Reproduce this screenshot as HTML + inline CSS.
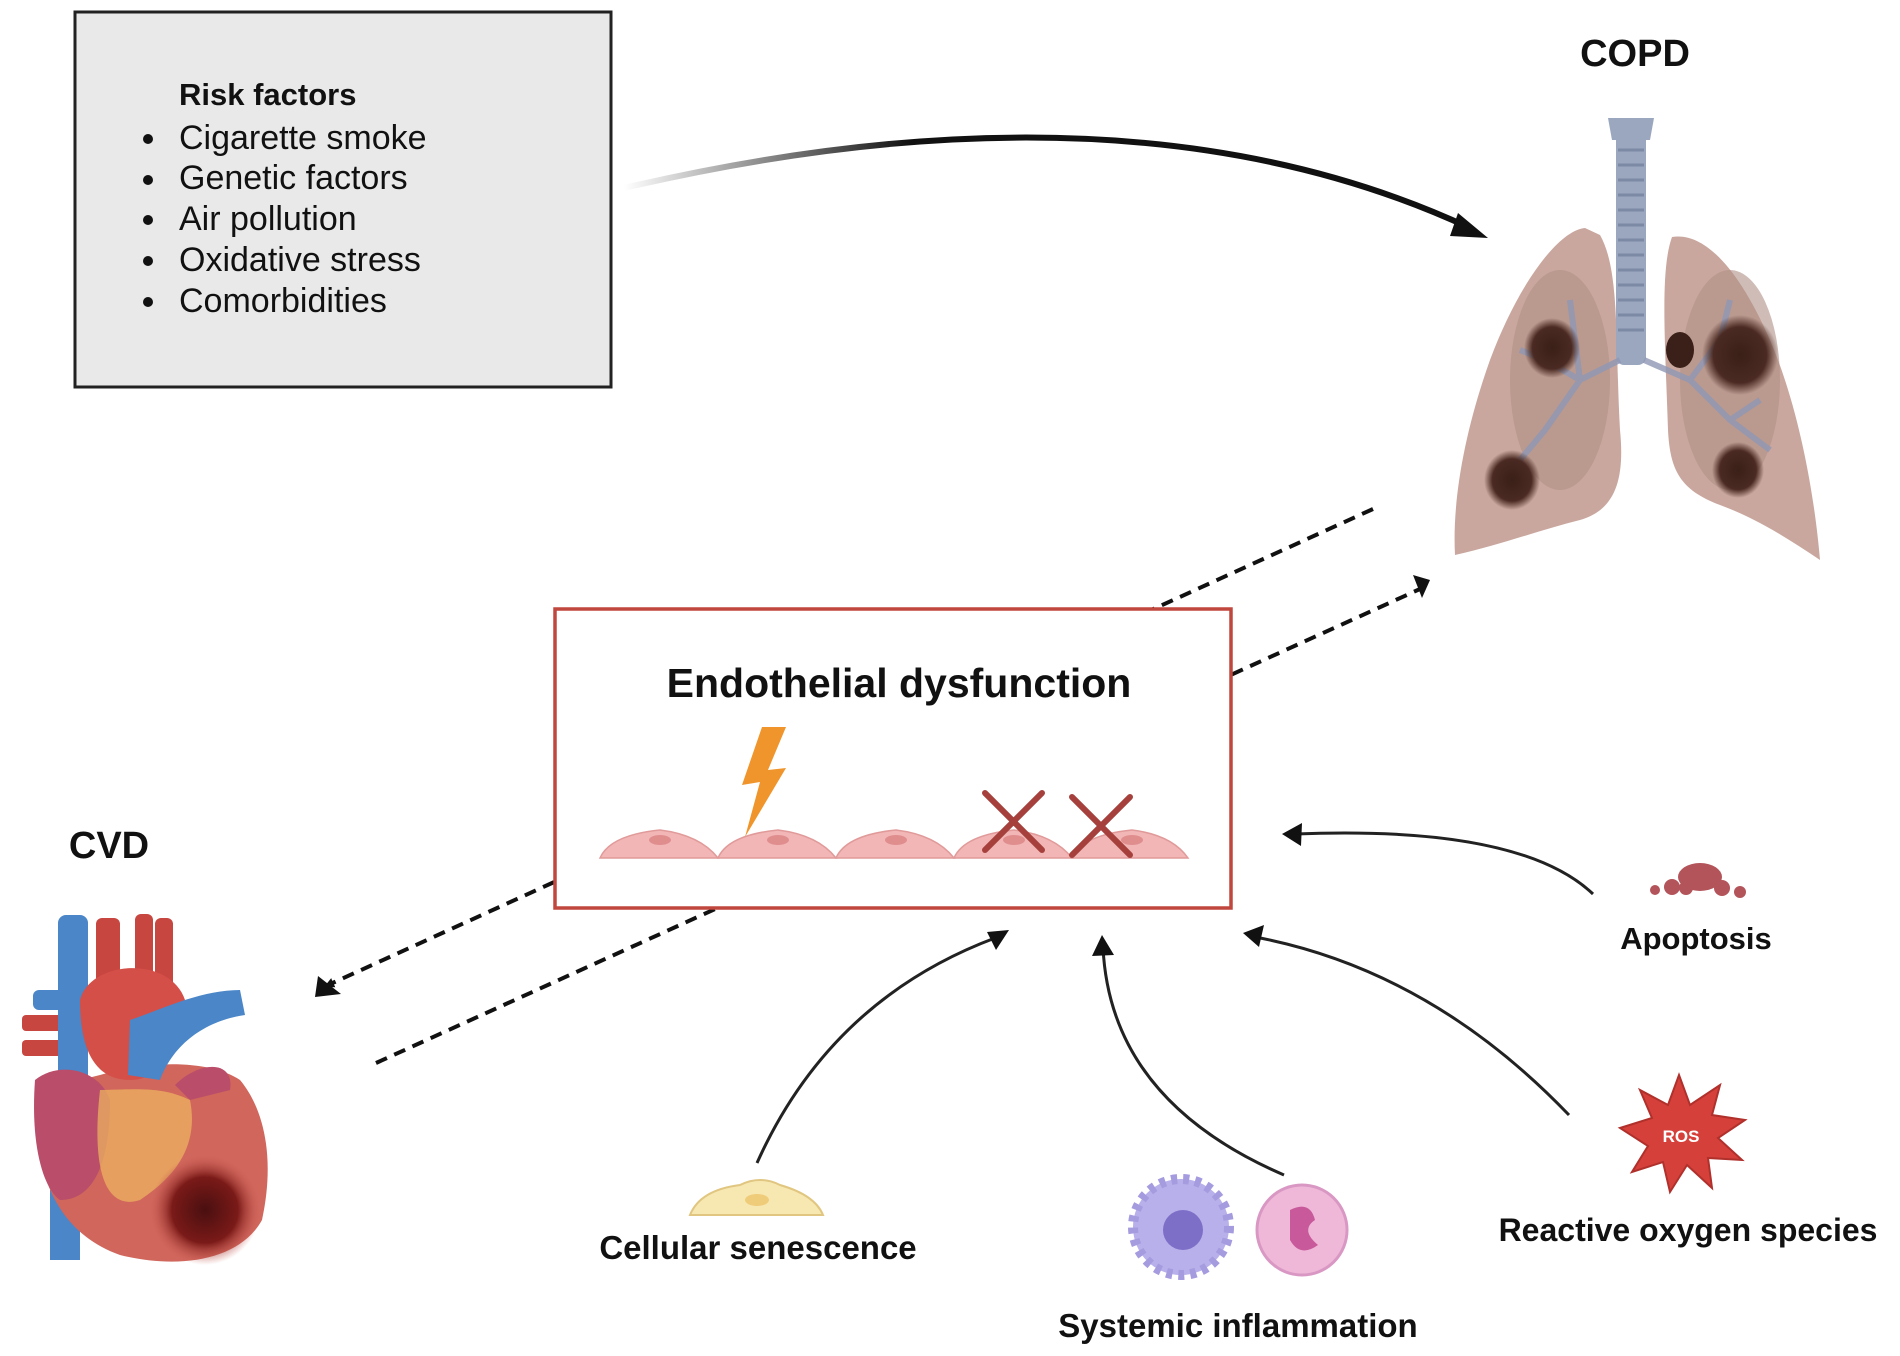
<!DOCTYPE html>
<html><head><meta charset="utf-8"><style>
html,body{margin:0;padding:0;background:#fff;}
svg{display:block;}
text{font-family:"Liberation Sans",sans-serif;}
</style></head><body>
<svg width="1900" height="1356" viewBox="0 0 1900 1356" xmlns="http://www.w3.org/2000/svg">
<defs>
<linearGradient id="ag" x1="624" y1="0" x2="1100" y2="0" gradientUnits="userSpaceOnUse">
<stop offset="0" stop-color="#fff"/><stop offset="0.6" stop-color="#111"/><stop offset="1" stop-color="#111"/></linearGradient>
<marker id="ah" markerWidth="10" markerHeight="10" refX="8" refY="5" orient="auto" markerUnits="userSpaceOnUse" viewBox="0 0 10 10"><path d="M0,0 L10,5 L0,10z" fill="#111"/></marker>
<radialGradient id="dk"><stop offset="0" stop-color="#3a2018"/><stop offset="0.7" stop-color="#4a2a22"/><stop offset="1" stop-color="#4a2a22" stop-opacity="0"/></radialGradient>
<radialGradient id="inf"><stop offset="0" stop-color="#4a0f10"/><stop offset="0.6" stop-color="#7a1a18"/><stop offset="1" stop-color="#c85a50" stop-opacity="0"/></radialGradient>
</defs>

<!-- Risk box -->
<rect x="75" y="12" width="536" height="375" fill="#e9e9e9" stroke="#222" stroke-width="3"/>
<text x="179" y="105" font-size="31" font-weight="bold" fill="#111">Risk factors</text>
<g font-size="34" fill="#111">
<text x="179" y="149">Cigarette smoke</text>
<text x="179" y="189">Genetic factors</text>
<text x="179" y="230">Air pollution</text>
<text x="179" y="271">Oxidative stress</text>
<text x="179" y="312">Comorbidities</text>
</g>
<g fill="#111"><circle cx="148" cy="139" r="5"/><circle cx="148" cy="180" r="5"/><circle cx="148" cy="220" r="5"/><circle cx="148" cy="261" r="5"/><circle cx="148" cy="302" r="5"/></g>

<!-- curved arrow -->
<path d="M624,188 Q1130,70 1470,228" fill="none" stroke="url(#ag)" stroke-width="6"/>
<path d="M1458,213 L1488,238 L1450,236 z" fill="#111"/>

<!-- COPD -->
<text x="1635" y="66" font-size="38" font-weight="bold" text-anchor="middle" fill="#111">COPD</text>
<!-- lungs -->
<path d="M1585,228 C1560,230 1520,280 1490,360 C1465,430 1452,500 1455,555 C1500,545 1540,530 1580,520 C1615,510 1625,480 1620,430 C1615,340 1620,270 1600,235 Z" fill="#c9a79e"/>
<path d="M1672,237 C1700,232 1735,260 1770,340 C1800,410 1815,500 1820,560 C1790,540 1760,520 1720,505 C1680,490 1670,470 1668,430 C1665,340 1660,270 1672,237 Z" fill="#c9a79e"/>
<ellipse cx="1560" cy="380" rx="50" ry="110" fill="#b08f86" opacity="0.6"/>
<ellipse cx="1730" cy="380" rx="50" ry="110" fill="#b08f86" opacity="0.6"/>
<rect x="1616" y="120" width="30" height="245" rx="8" fill="#9aa7bf"/>
<path d="M1608,118 L1654,118 L1650,140 L1612,140 Z" fill="#9aa7bf"/>
<g stroke="#7d8aa6" stroke-width="3">
<line x1="1618" y1="150" x2="1644" y2="150"/><line x1="1618" y1="165" x2="1644" y2="165"/><line x1="1618" y1="180" x2="1644" y2="180"/><line x1="1618" y1="195" x2="1644" y2="195"/><line x1="1618" y1="210" x2="1644" y2="210"/><line x1="1618" y1="225" x2="1644" y2="225"/><line x1="1618" y1="240" x2="1644" y2="240"/><line x1="1618" y1="255" x2="1644" y2="255"/><line x1="1618" y1="270" x2="1644" y2="270"/><line x1="1618" y1="285" x2="1644" y2="285"/><line x1="1618" y1="300" x2="1644" y2="300"/><line x1="1618" y1="315" x2="1644" y2="315"/><line x1="1618" y1="330" x2="1644" y2="330"/>
</g>
<g stroke="#8f97b5" stroke-width="6" fill="none" opacity="0.8">
<path d="M1620,360 L1580,380 L1545,430 L1520,460"/><path d="M1580,380 L1545,360 L1520,350"/><path d="M1580,380 L1570,300"/>
<path d="M1644,360 L1690,380 L1730,420 L1770,450"/><path d="M1690,380 L1720,340 L1730,300"/><path d="M1730,420 L1760,400"/>
</g>
<ellipse cx="1552" cy="348" rx="28" ry="30" fill="url(#dk)"/>
<ellipse cx="1740" cy="355" rx="38" ry="40" fill="url(#dk)"/>
<ellipse cx="1680" cy="350" rx="14" ry="18" fill="#3a2018"/>
<ellipse cx="1512" cy="480" rx="28" ry="30" fill="url(#dk)"/>
<ellipse cx="1738" cy="470" rx="26" ry="28" fill="url(#dk)"/>

<!-- dashed lines -->
<line x1="1373" y1="509" x2="326" y2="986" stroke="#111" stroke-width="4" stroke-dasharray="12,8" marker-end="url(#ah)"/>
<path d="M318,976 L341,994 L315,997 z" fill="#111"/>
<line x1="376" y1="1063" x2="1420" y2="589" stroke="#111" stroke-width="4" stroke-dasharray="12,8"/>
<path d="M1430,580 L1413,575 L1422,598 z" fill="#111"/>

<!-- Endothelial box -->
<rect x="555" y="609" width="676" height="299" fill="#fff" stroke="#c0473d" stroke-width="3.5"/>
<text x="899" y="697" font-size="41" font-weight="bold" text-anchor="middle" fill="#111">Endothelial dysfunction</text>
<g fill="#f1b6b5" stroke="#e19a9a" stroke-width="1.5">
<path d="M600,858 Q610,835 660,830 Q700,835 718,858 Z"/>
<path d="M718,858 Q728,835 778,830 Q818,835 836,858 Z"/>
<path d="M836,858 Q846,835 896,830 Q936,835 954,858 Z"/>
<path d="M954,858 Q964,835 1014,830 Q1054,835 1072,858 Z"/>
<path d="M1072,858 Q1082,835 1132,830 Q1172,835 1188,858 Z"/>
</g>
<g fill="#e08d8e"><ellipse cx="660" cy="840" rx="11" ry="5"/><ellipse cx="778" cy="840" rx="11" ry="5"/><ellipse cx="896" cy="840" rx="11" ry="5"/><ellipse cx="1014" cy="840" rx="11" ry="5"/><ellipse cx="1132" cy="840" rx="11" ry="5"/></g>
<path d="M762,727 L742,785 L760,782 L745,837 L786,768 L768,770 L786,727 Z" fill="#f0952b"/>
<g stroke="#a5403c" stroke-width="6" stroke-linecap="round">
<line x1="985" y1="793" x2="1042" y2="850"/><line x1="1042" y1="793" x2="985" y2="850"/>
<line x1="1072" y1="797" x2="1130" y2="855"/><line x1="1130" y1="797" x2="1072" y2="855"/>
</g>

<!-- CVD -->
<text x="109" y="858" font-size="38" font-weight="bold" text-anchor="middle" fill="#111">CVD</text>
<!-- heart -->
<g>
<rect x="50" y="1190" width="30" height="70" fill="#4a86c8"/>
<rect x="22" y="1015" width="40" height="16" fill="#c84640" rx="4"/><rect x="22" y="1040" width="40" height="16" fill="#c84640" rx="4"/>
<rect x="96" y="918" width="24" height="80" fill="#c84640" rx="6"/><rect x="135" y="914" width="18" height="80" fill="#c84640" rx="6"/><rect x="155" y="918" width="18" height="80" fill="#c84640" rx="6"/>
<rect x="58" y="915" width="30" height="210" fill="#4a86c8" rx="8"/>
<rect x="33" y="990" width="40" height="20" fill="#4a86c8" rx="6"/>
<path d="M40,1090 C30,1160 50,1230 120,1255 C180,1270 240,1260 262,1220 C275,1160 265,1110 240,1080 C210,1060 150,1060 100,1075 Z" fill="#d0665c"/>
<path d="M35,1080 C30,1150 45,1190 60,1200 C90,1200 110,1170 110,1100 C100,1070 60,1060 35,1080 Z" fill="#b94d6a"/>
<path d="M80,1000 C90,960 170,955 185,1000 C190,1050 160,1080 130,1080 C95,1080 80,1050 80,1000 Z" fill="#d44f48"/>
<path d="M130,1020 C160,1010 200,990 240,990 L245,1015 C210,1020 175,1040 160,1080 L128,1075 Z" fill="#4a86c8"/>
<path d="M175,1085 C200,1060 235,1060 230,1090 L190,1100 Z" fill="#b94d6a"/>
<path d="M100,1090 C130,1090 160,1085 190,1100 C200,1150 170,1180 140,1200 C110,1210 90,1180 100,1090 Z" fill="#f0b860" opacity="0.7"/>
<ellipse cx="205" cy="1210" rx="55" ry="55" fill="url(#inf)"/>
</g>

<!-- arrows to box -->
<g fill="none" stroke="#222" stroke-width="3">
<path d="M1593,894 Q1520,825 1295,834"/>
<path d="M1569,1115 Q1430,970 1255,937"/>
<path d="M1284,1175 Q1110,1100 1103,947"/>
<path d="M757,1163 Q830,1000 995,938"/>
</g>
<g fill="#111">
<path d="M1282,834 L1302,823 L1301,846 z"/>
<path d="M1243,933 L1264,925 L1259,947 z"/>
<path d="M1102,935 L1092,956 L1114,955 z"/>
<path d="M1009,930 L996,950 L987,932 z"/>
</g>

<!-- Apoptosis -->
<g fill="#b3545a"><ellipse cx="1700" cy="877" rx="22" ry="14"/><circle cx="1672" cy="887" r="8"/><circle cx="1686" cy="888" r="7"/><circle cx="1722" cy="888" r="8"/><circle cx="1740" cy="892" r="6"/><circle cx="1655" cy="890" r="5"/></g>
<text x="1696" y="949" font-size="31" font-weight="bold" text-anchor="middle" fill="#111">Apoptosis</text>

<!-- ROS -->
<polygon points="1679,1075 1690,1105 1720,1085 1712,1115 1745,1120 1718,1138 1742,1160 1708,1158 1712,1188 1687,1165 1670,1192 1663,1162 1632,1172 1648,1146 1620,1128 1652,1118 1640,1090 1668,1105" fill="#d6403a" stroke="#b0302c" stroke-width="2"/>
<text x="1681" y="1142" font-size="17" font-weight="bold" text-anchor="middle" fill="#fff">ROS</text>
<text x="1688" y="1241" font-size="32" font-weight="bold" text-anchor="middle" fill="#111">Reactive oxygen species</text>

<!-- Senescence -->
<path d="M690,1215 Q700,1190 740,1185 Q760,1175 780,1185 Q815,1195 823,1215 Z" fill="#f7e7b0" stroke="#e0c680" stroke-width="2"/>
<ellipse cx="757" cy="1200" rx="12" ry="6" fill="#efcc7a"/>
<text x="758" y="1259" font-size="33" font-weight="bold" text-anchor="middle" fill="#111">Cellular senescence</text>

<!-- immune cells -->
<g>
<circle cx="1181" cy="1227" r="48" fill="#b8b0ea" stroke="#a59bdf" stroke-width="10" stroke-dasharray="6,6"/>
<circle cx="1183" cy="1230" r="20" fill="#7d6fc8"/>
<circle cx="1302" cy="1230" r="45" fill="#f0b8d8" stroke="#d998c4" stroke-width="3"/>
<path d="M1290,1210 Q1310,1200 1315,1220 Q1300,1230 1318,1245 Q1300,1258 1290,1240 Z" fill="#c85a9c"/>
</g>
<text x="1238" y="1337" font-size="33" font-weight="bold" text-anchor="middle" fill="#111">Systemic inflammation</text>
</svg>
</body></html>
